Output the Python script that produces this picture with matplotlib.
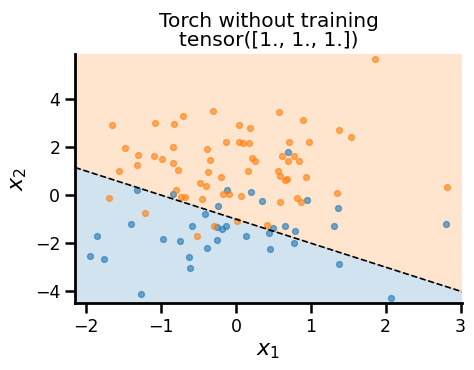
import numpy as np
import matplotlib
matplotlib.use("Agg")
import matplotlib.pyplot as plt
from matplotlib.colors import ListedColormap

# weights of the untrained model: bias, w1, w2
weights = [1., 1., 1.]

# class 0 (blue)
x1_blue = [0.70, -0.12, 0.20, 0.35, 0.95, -0.24, -0.41, -0.25, -0.19, -0.13,
           -0.25, -0.38, 0.13, 0.49, 0.44, 0.65, 0.79, 0.78, 0.45, 1.31,
           1.36, 2.81, 1.38, 2.07, -1.32, -0.84, -1.40, -1.85, -1.95, -1.76,
           -0.98, -0.75, -0.58, -0.63, -0.61, -1.27]
x2_blue = [1.78, 0.22, 0.14, -0.24, -0.22, -0.46, -0.79, -1.34, -1.43, -1.30,
           -1.85, -2.19, -1.72, -1.38, -1.59, -1.27, -1.48, -2.01, -2.25, -1.27,
           -0.53, -1.20, -2.88, -4.29, 0.22, 0.06, -1.22, -1.70, -2.52, -2.65,
           -1.83, -1.89, -1.27, -2.59, -3.03, -4.12]

# class 1 (orange)
x1_orange = [-1.66, -1.08, -0.83, -0.71, -1.48, -1.31, -1.10, -0.99, -0.84, -1.32,
             -0.84, -0.77, -1.56, -0.48, -0.40, -0.80, -0.30, 0.58, 0.89, 0.04,
             0.19, -0.13, 0.04, 0.10, 0.18, 0.71, 0.98, -0.39, -0.35, 0.22,
             0.26, 0.61, 0.69, 0.77, 0.84, -0.37, -0.20, 0.16, 0.56, 0.59,
             0.66, 0.68, 0.93, 1.86, 1.37, 1.53, 2.82, 1.35, -1.69, -1.22,
             -0.74, -0.68, -0.45, -0.17, -0.09, 0.07, 0.59, 0.81, 0.87, 0.02,
             -0.29, 0.41, -0.52]
x2_orange = [2.90, 3.00, 2.97, 3.28, 1.94, 1.66, 1.64, 1.51, 2.02, 1.27,
             1.33, 1.05, 1.00, 0.50, 0.38, 0.22, 3.50, 3.47, 3.11, 2.90,
             2.81, 2.23, 2.20, 2.16, 2.15, 2.23, 2.19, 1.93, 1.46, 1.54,
             1.40, 1.63, 1.42, 1.63, 1.40, 0.98, 0.76, 1.00, 1.02, 0.79,
             0.62, 0.68, 0.75, 5.67, 2.69, 2.40, 0.35, 0.10, -0.14, -0.76,
             -0.08, -0.08, -0.17, 0.05, 0.05, -0.03, -0.29, -0.14, -0.29, -1.06,
             -1.30, -1.26, -1.72]

all_x1 = np.array(x1_blue + x1_orange)
all_x2 = np.array(x2_blue + x2_orange)
pad = 0.2
xmin, xmax = all_x1.min() - pad, all_x1.max() + pad
ymin, ymax = all_x2.min() - pad, all_x2.max() + pad

fig = plt.figure(figsize=(4.74, 3.70), dpi=100)
ax = fig.add_axes([0.158, 0.181, 0.817, 0.673])

# decision regions
xx, yy = np.meshgrid(np.linspace(xmin, xmax, 400), np.linspace(ymin, ymax, 400))
zz = (weights[0] + weights[1] * xx + weights[2] * yy > 0).astype(float)
ax.contourf(xx, yy, zz, levels=[-0.5, 0.5, 1.5],
            cmap=ListedColormap(["tab:blue", "tab:orange"]), alpha=0.2)

ax.scatter(x1_blue, x2_blue, s=18, color="tab:blue", alpha=0.6, zorder=3)
ax.scatter(x1_orange, x2_orange, s=18, color="tab:orange", alpha=0.6, zorder=3)

# boundary line
line_x = np.array([xmin, xmax])
line_y = -(weights[0] + weights[1] * line_x) / weights[2]
ax.plot(line_x, line_y, "k--", lw=1.2, zorder=4)

ax.set_xlim(xmin, xmax)
ax.set_ylim(ymin, ymax)
ax.set_xticks([-2, -1, 0, 1, 2, 3])
ax.set_yticks([-4, -2, 0, 2, 4])
ax.set_xlabel(r"$x_1$", fontsize=16)
ax.set_ylabel(r"$x_2$", fontsize=16)
ax.set_title("Torch without training\ntensor([1., 1., 1.])", fontsize=14.5,
             linespacing=1.0)

for side in ["top", "right"]:
    ax.spines[side].set_visible(False)
for side in ["left", "bottom"]:
    ax.spines[side].set_linewidth(2)
ax.tick_params(labelsize=12.5, length=7, width=1.8)

fig.savefig("out.png", dpi=100)
